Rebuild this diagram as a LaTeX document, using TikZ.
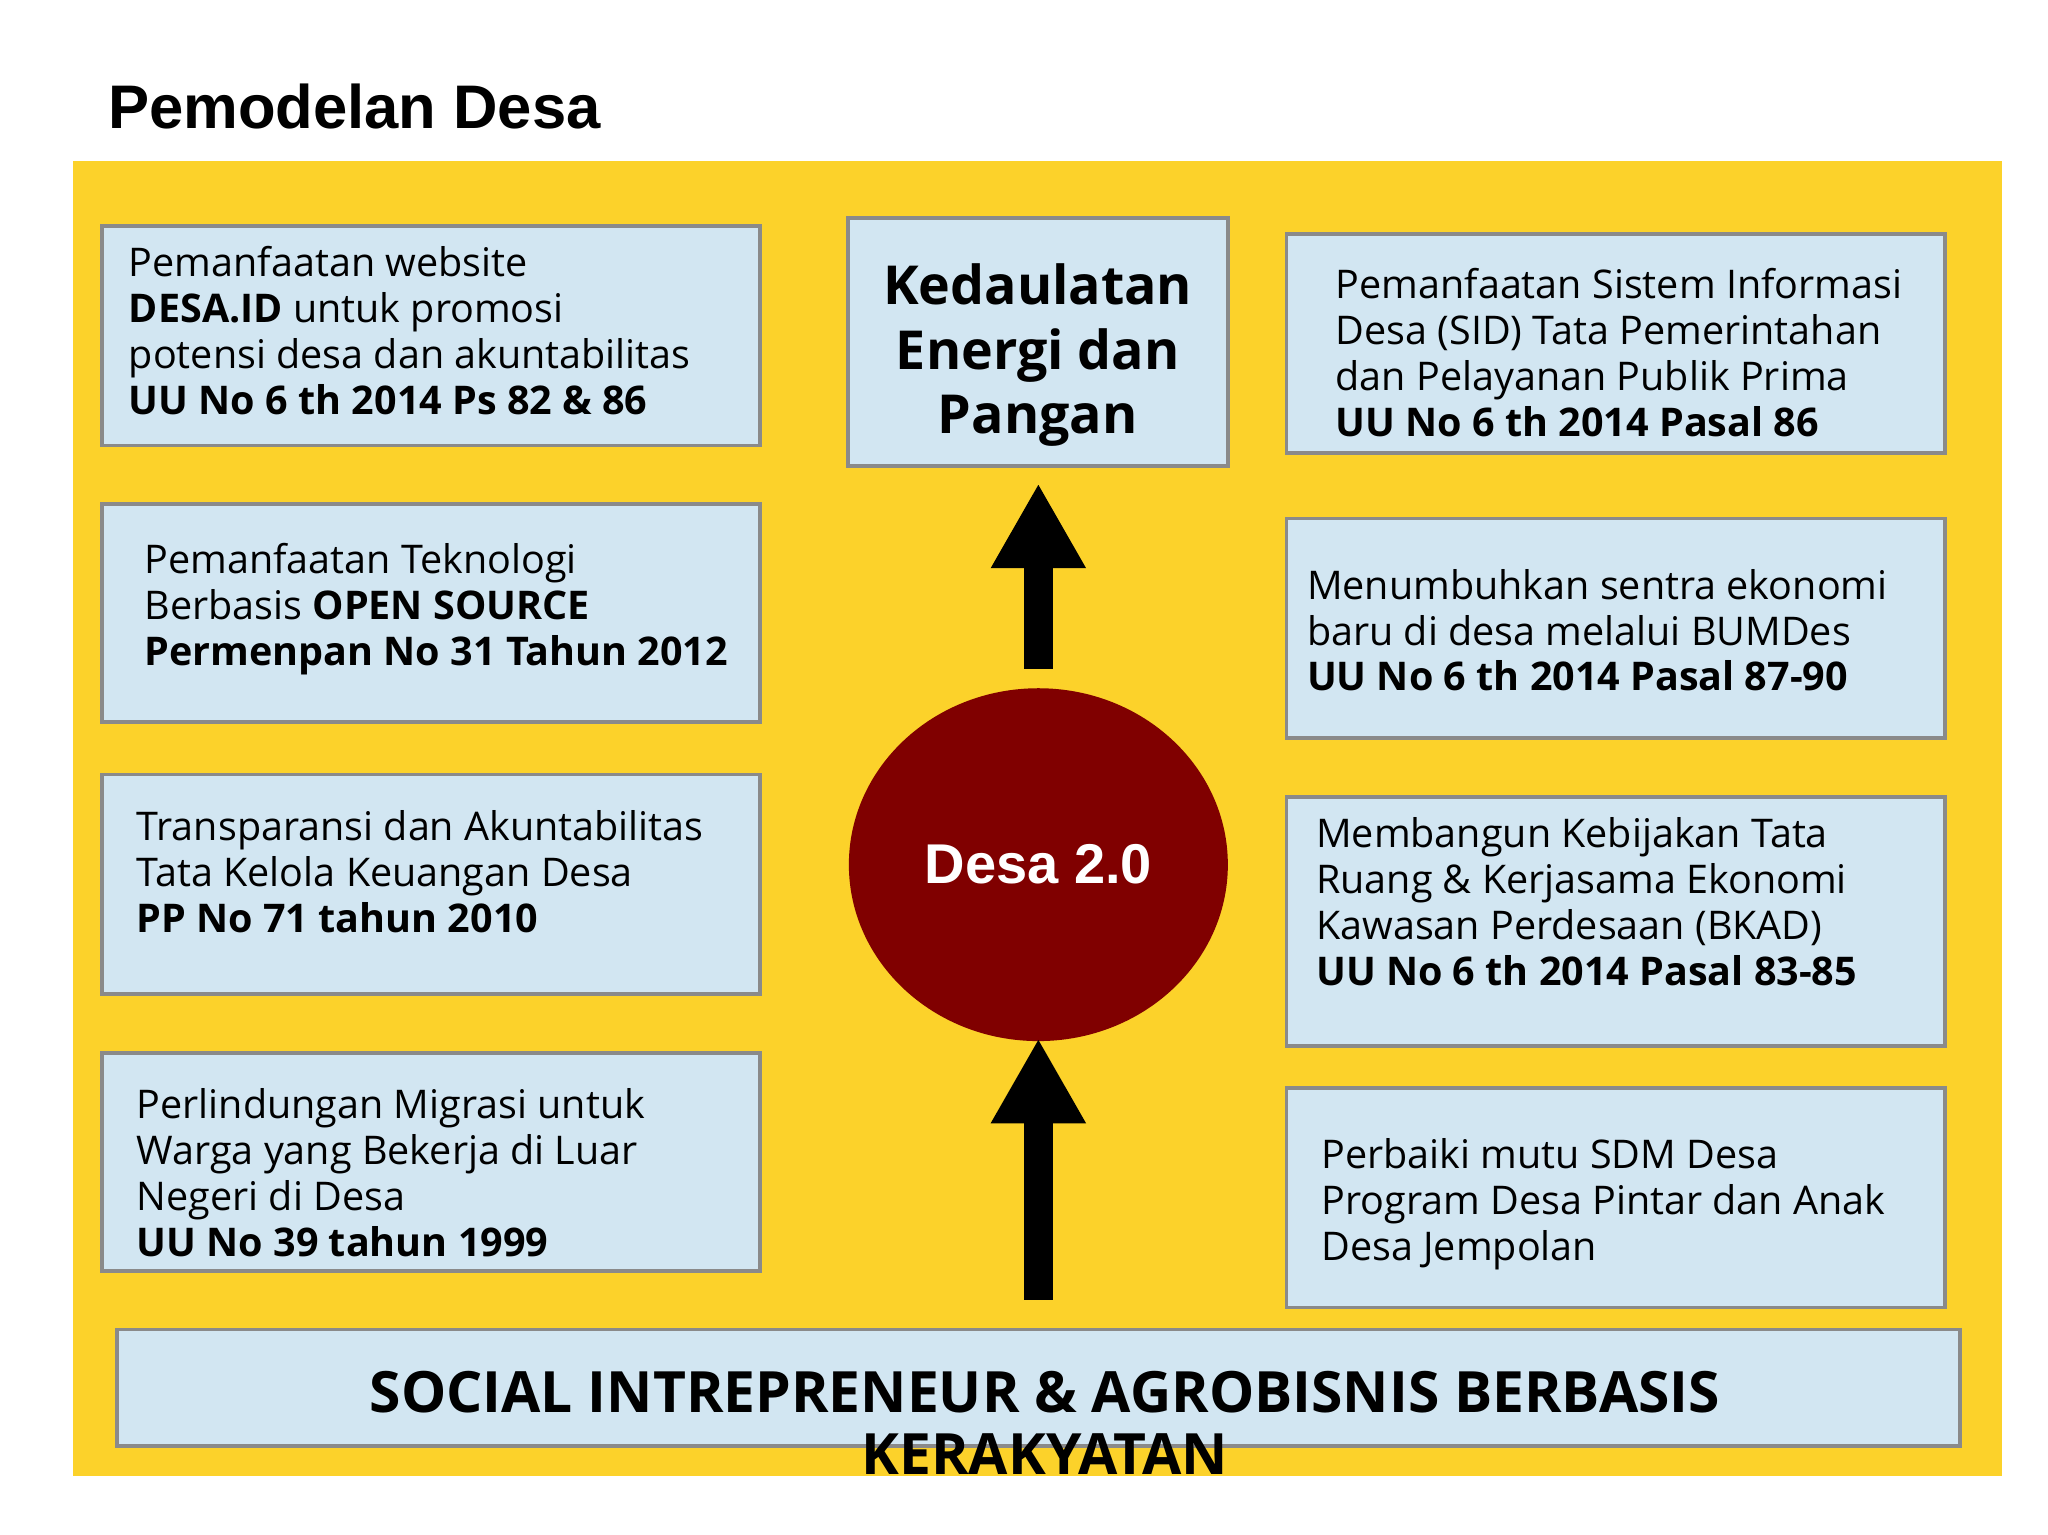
\documentclass[tikz,border=0pt]{standalone}
\usepackage{fontspec}
\setmainfont{Open Sans}
\newfontfamily\arialf{Liberation Sans}
\usetikzlibrary{arrows.meta,shapes.geometric}
\definecolor{ybg}{HTML}{FCD22A}
\definecolor{bbox}{HTML}{D2E6F2}
\definecolor{bord}{HTML}{8A8A8A}
\definecolor{dred}{HTML}{800000}
\begin{document}
\begin{tikzpicture}[x=0.01cm,y=-0.01cm,
  card/.style={draw=bord,fill=bbox,line width=0.8pt},
  txt/.style={anchor=north west,align=left,inner sep=0pt,font=\fontsize{8.6}{10}\selectfont},
  bigarrow/.style={line width=0.22cm,-{Triangle[width=0.68cm,length=0.65cm]}}]
\useasboundingbox (0,0) rectangle (1568,1175);
\fill[white] (0,0) rectangle (1568,1175);
\node[anchor=base west,inner sep=0pt,font=\arialf\bfseries\fontsize{13.4}{15}\selectfont] (title) at (82,98) {Pemodelan Desa};
\fill[ybg] (56,123) rectangle (1533,1130);
% left cards
\draw[card] (78,173) rectangle (582,341);
\draw[card] (78,386) rectangle (582,553);
\draw[card] (78,593) rectangle (582,761);
\draw[card] (78,806) rectangle (582,973);
% right cards
\draw[card] (985,179) rectangle (1489,347);
\draw[card] (985,397) rectangle (1489,565);
\draw[card] (985,610) rectangle (1489,801);
\draw[card] (985,833) rectangle (1489,1001);
% center box
\draw[card] (649,167) rectangle (940,357);
\node[align=center,inner sep=0pt,font=\bfseries\fontsize{11.7}{14}\selectfont] (kep) at (794.5,272) {Kedaulatan\\Energi dan\\Pangan};
\node[card,minimum width=14.1cm,minimum height=0.89cm] (soc) at (795,1062.5) {};
\node[align=center,inner sep=0pt,anchor=north,font=\bfseries\fontsize{12.4}{13.5}\selectfont] (soct) at (800,1049) {SOCIAL INTREPRENEUR \& AGROBISNIS BERBASIS\\KERAKYATAN};
\node[ellipse,fill=dred,minimum width=2.9cm,minimum height=2.7cm,inner sep=0pt,text=white,font=\arialf\bfseries\fontsize{12.2}{14}\selectfont] (desa) at (795,662) {Desa 2.0};
\coordinate (a1s) at (795,512);
\coordinate (a1e) at (795,370);
\coordinate (a2s) at (795,995);
\coordinate (a2e) at (795,795);
\draw[bigarrow] (a1s) -- (a1e);
\draw[bigarrow] (a2s) -- (a2e);
% texts
\node[txt] (l1) at (98,188) {Pemanfaatan website\\\textbf{DESA.ID} untuk promosi\\potensi desa dan akuntabilitas\\\textbf{UU No 6 th 2014 Ps 82 \& 86}};
\node[txt] (l2) at (110,415) {Pemanfaatan Teknologi\\Berbasis \textbf{OPEN SOURCE}\\\textbf{Permenpan No 31 Tahun 2012}};
\node[txt] (l3) at (104,620) {Transparansi dan Akuntabilitas\\Tata Kelola Keuangan Desa\\\textbf{PP No 71 tahun 2010}};
\node[txt] (l4) at (104,833) {Perlindungan Migrasi untuk\\Warga yang Bekerja di Luar\\Negeri di Desa\\\textbf{UU No 39 tahun 1999}};
\node[txt] (r1) at (1022,205) {Pemanfaatan Sistem Informasi\\Desa (SID) Tata Pemerintahan\\dan Pelayanan Publik Prima\\\textbf{UU No 6 th 2014 Pasal 86}};
\node[txt] (r2) at (1000,435) {Menumbuhkan sentra ekonomi\\baru di desa melalui BUMDes\\\textbf{UU No 6 th 2014 Pasal 87-90}};
\node[txt] (r3) at (1007,625) {Membangun Kebijakan Tata\\Ruang \& Kerjasama Ekonomi\\Kawasan Perdesaan (BKAD)\\\textbf{UU No 6 th 2014 Pasal 83-85}};
\node[txt] (r4) at (1011,871) {Perbaiki mutu SDM Desa\\Program Desa Pintar dan Anak\\Desa Jempolan};
\end{tikzpicture}
\end{document}
